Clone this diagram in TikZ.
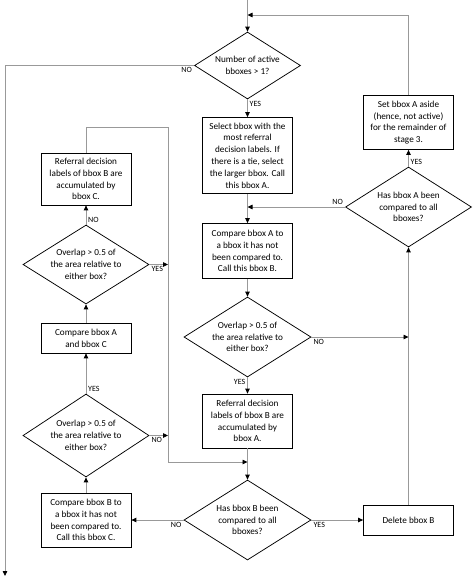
\documentclass[tikz,border=0pt]{standalone}
\usepackage{fontspec}
\setmainfont{Carlito}
\usetikzlibrary{arrows.meta,shapes.geometric}
\tikzset{
  flowfig/.style={x=1pt,y=-1pt,>={Triangle[length=5pt,width=4.5pt,color=black]},
    every node/.style={font=\fontsize{9.2}{11.8}\selectfont,align=center}},
  stepbox/.style={draw,line width=0.75pt,minimum width=90pt,inner sep=2pt},
  decision/.style={draw,diamond,line width=0.75pt,inner sep=0pt,aspect=1.6,
    minimum width=127pt,minimum height=80pt},
  note/.style={font=\fontsize{8}{9.5}\selectfont,inner sep=2pt},
  link/.style={draw=black!40,line width=0.8pt},
}

\begin{document}
\begin{tikzpicture}[flowfig]
    \useasboundingbox (0,0) rectangle (474,579);

    % middle column
    \coordinate (top) at (247.5,0);
    \coordinate (ret) at (247.5,15);
    \node[decision,minimum width=106pt,minimum height=67pt]
      (act) at (247.5,65.5) {Number of active\\bboxes > 1?};
    \node[stepbox,minimum height=76pt] (sel) at (247.5,155.5)
      {Select bbox with the\\most referral\\decision labels. If\\there is a tie, select\\the larger bbox. Call\\this bbox A.};
    \node[stepbox,minimum height=55pt] (cmpa) at (247.5,251)
      {Compare bbox A to\\a bbox it has not\\been compared to.\\Call this bbox B.};
    \node[decision] (ovab) at (247.5,337)
      {Overlap > 0.5 of\\the area relative to\\either box?};
    \node[stepbox,minimum height=54pt] (acca) at (247.5,421)
      {Referral decision\\labels of bbox B are\\accumulated by\\bbox A.};
    \node[decision] (doneb) at (247.5,520)
      {Has bbox B been\\compared to all\\bboxes?};

    % right column
    \node[stepbox,minimum height=54pt] (aside) at (408.5,122.5)
      {Set bbox A aside\\(hence, not active)\\for the remainder of\\stage 3.};
    \node[decision,minimum width=126pt] (donea) at (408.5,207)
      {Has bbox A been\\compared to all\\bboxes?};
    \node[stepbox,minimum height=30pt] (del) at (408.5,520) {Delete bbox B};

    % left column
    \node[stepbox,minimum height=52pt] (accc) at (86,179)
      {Referral decision\\labels of bbox B are\\accumulated by\\bbox C.};
    \node[decision,minimum width=126pt,minimum height=79pt] (ovac) at (86,264.5)
      {Overlap > 0.5 of\\the area relative to\\either box?};
    \node[stepbox,minimum height=30pt] (cmpac) at (86,338)
      {Compare bbox A\\and bbox C};
    \node[decision,minimum width=126pt,minimum height=83pt] (ovbc) at (86,435.5)
      {Overlap > 0.5 of\\the area relative to\\either box?};
    \node[stepbox,minimum height=54pt] (cmpb) at (86,520)
      {Compare bbox B to\\a bbox it has not\\been compared to.\\Call this bbox C.};

    \coordinate (exit) at (5,576);
    \coordinate (lpt) at (168,127);
    \coordinate (lbot) at (168,462);
    \coordinate (jb) at (247.5,462);

    % connectors
    \draw[link,->] (top) -- (act);
    \draw[link,->] (act.west) -| (exit);
    \draw[link,->] (act) -- (sel);
    \draw[link,->] (sel) -- (cmpa);
    \draw[link,->] (cmpa) -- (ovab);
    \draw[link,->] (ovab) -- (acca);
    \draw[link,->] (acca) -- (doneb);
    \draw[link,->] (doneb) -- (del);
    \draw[link,->] (doneb) -- (cmpb);
    \draw[link,->] (cmpb) -- (ovbc);
    \draw[link,->] (ovbc) -- (cmpac);
    \draw[link,->] (cmpac) -- (ovac);
    \draw[link,->] (ovac) -- (accc);
    \draw[link,->] (accc.north) |- (lpt) -- (lbot) -- (jb);
    \draw[link,->] (ovac.east) -- (ovac.east -| lpt);
    \draw[link,->] (ovbc.east) -- (ovbc.east -| lpt);
    \draw[link,->] (del) -- (donea);
    \draw[link,->] (ovab.east) -- (ovab.east -| del.north);
    \draw[link,->] (donea) -- (aside);
    \draw[link,->] (donea.west) -- (donea.west -| sel.south);
    \draw[link,->] (aside.north) |- (ret);

    % branch labels
    \node[note,below left] (actno) at (act.west) {NO};
    \node[note,below right] (actyes) at (act.south) {YES};
    \node[note,above left] (doneano) at (donea.west) {NO};
    \node[note,above right] (doneayes) at (donea.north) {YES};
    \node[note,below right] (ovabno) at (ovab.east) {NO};
    \node[note,below left] (ovabyes) at (ovab.south) {YES};
    \node[note,below left] (donebno) at (doneb.west) {NO};
    \node[note,below right] (donebyes) at (doneb.east) {YES};
    \node[note,above right] (ovacno) at (ovac.north) {NO};
    \node[note,below right] (ovacyes) at (ovac.east) {YES};
    \node[note,above right] (ovbcyes) at (ovbc.north) {YES};
    \node[note,below right] (ovbcno) at (ovbc.east) {NO};
\end{tikzpicture}
\end{document}
